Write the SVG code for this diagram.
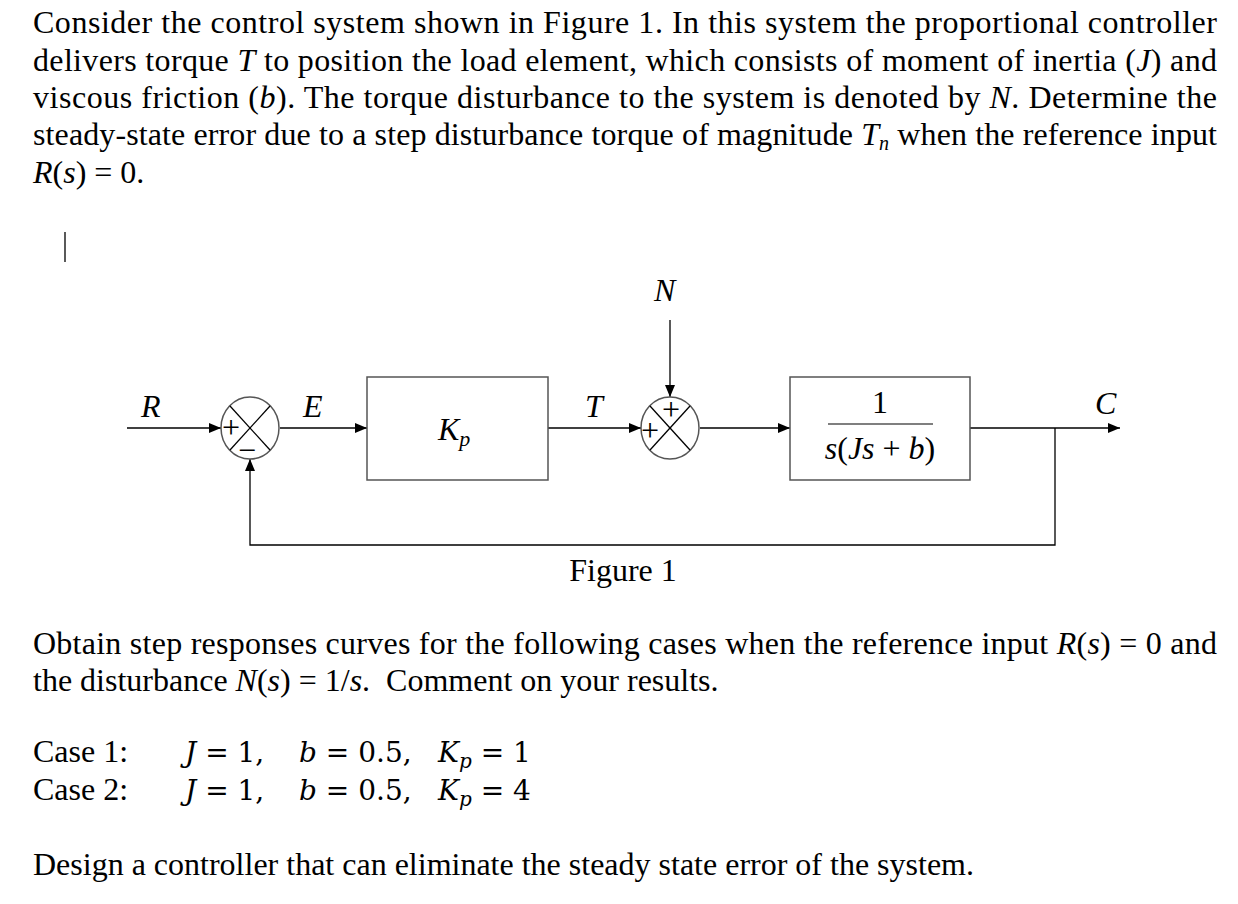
<svg xmlns="http://www.w3.org/2000/svg" width="1238" height="904" viewBox="0 0 1238 904">
<style>
text{font-family:"Liberation Serif","Times New Roman",serif;font-size:32px;fill:#000}
.i{font-style:italic}
.l{stroke:#000;stroke-width:1.3;fill:none}
.b{stroke:#555;stroke-width:1.5;fill:#fff}
.m{font-family:"DejaVu Serif",serif;font-size:28px}
</style>
<defs><marker id="a" markerWidth="12" markerHeight="10" refX="12" refY="5" orient="auto" markerUnits="userSpaceOnUse"><path d="M0,0L12,5L0,10Z" fill="#000"/></marker></defs>
<rect width="1238" height="904" fill="#fff"/>
<text x="33" y="33" textLength="1184" lengthAdjust="spacing">Consider the control system shown in Figure 1.  In this system the proportional controller</text>
<text x="33" y="71" textLength="1184" lengthAdjust="spacing">delivers torque <tspan class="i">T</tspan> to position the load element, which consists of moment of inertia (<tspan class="i">J</tspan>) and</text>
<text x="33" y="108" textLength="1184" lengthAdjust="spacing">viscous friction (<tspan class="i">b</tspan>).  The torque disturbance to the system is denoted by <tspan class="i">N</tspan>.  Determine the</text>
<text x="33" y="145" textLength="1184" lengthAdjust="spacing">steady-state error due to a step disturbance torque of magnitude <tspan class="i">T</tspan><tspan class="i" font-size="20" dy="5">n</tspan><tspan dy="-5"> when the reference input</tspan></text>
<text x="33" y="183"><tspan class="i">R</tspan>(<tspan class="i">s</tspan>) = 0.</text>
<line x1="65" y1="232" x2="65" y2="262" stroke="#000" stroke-width="1.3"/>
<g id="connectors">
<line class="l" x1="127" y1="428" x2="221" y2="428" marker-end="url(#a)"/>
<line class="l" x1="280" y1="428" x2="367" y2="428" marker-end="url(#a)"/>
<line class="l" x1="548" y1="428" x2="641" y2="428" marker-end="url(#a)"/>
<line class="l" x1="670" y1="320" x2="670" y2="397" marker-end="url(#a)"/>
<line class="l" x1="700" y1="428" x2="790" y2="428" marker-end="url(#a)"/>
<line class="l" x1="970" y1="428" x2="1120" y2="428" marker-end="url(#a)"/>
<polyline class="l" points="1055,428 1055,545 250,545 250,459" marker-end="url(#a)"/>
</g>
<g id="sum1">
<ellipse class="b" cx="250" cy="428" rx="29" ry="31"/>
<line class="l" x1="230" y1="406" x2="270" y2="450"/><line class="l" x1="270" y1="406" x2="230" y2="450"/>
<text x="222" y="438" font-size="26">+</text><text x="238" y="461" font-size="26">−</text>
</g>
<g id="sum2">
<ellipse class="b" cx="670" cy="428" rx="29" ry="31"/>
<line class="l" x1="650" y1="406" x2="690" y2="450"/><line class="l" x1="690" y1="406" x2="650" y2="450"/>
<text x="641" y="441" font-size="26">+</text><text x="662" y="420" font-size="26">+</text>
</g>
<g id="kp"><rect class="b" x="367" y="377" width="181" height="103"/>
<text class="i" x="438" y="440">K<tspan font-size="22" dy="6">p</tspan></text></g>
<g id="plant"><rect class="b" x="790" y="377" width="180" height="103"/>
<text x="880" y="413" text-anchor="middle">1</text>
<line x1="828" y1="424" x2="933" y2="424" stroke="#000" stroke-width="1.2"/>
<text x="880" y="459" text-anchor="middle"><tspan class="i">s</tspan>(<tspan class="i">Js</tspan> + <tspan class="i">b</tspan>)</text></g>
<text class="i" x="141" y="417">R</text>
<text class="i" x="303" y="417">E</text>
<text class="i" x="585" y="417">T</text>
<text class="i" x="654" y="301">N</text>
<text class="i" x="1095" y="414">C</text>
<text x="623" y="581" text-anchor="middle">Figure 1</text>
<text x="33" y="654" textLength="1184" lengthAdjust="spacing">Obtain step responses curves for the following cases when the reference input <tspan class="i">R</tspan>(<tspan class="i">s</tspan>) = 0 and</text>
<text x="33" y="691" xml:space="preserve">the disturbance <tspan class="i">N</tspan>(<tspan class="i">s</tspan>) = 1/<tspan class="i">s</tspan>.  Comment on your results.</text>
<text x="33" y="762">Case 1:</text>
<text x="33" y="800">Case 2:</text>
<text class="m" x="185" y="762"><tspan class="i">J</tspan> = 1,</text>
<text class="m" x="299" y="762"><tspan class="i">b</tspan> = 0.5,</text>
<text class="m" x="438" y="762"><tspan class="i">K</tspan><tspan class="i" font-size="20" dy="6">p</tspan><tspan dy="-6"> = 1</tspan></text>
<text class="m" x="185" y="800"><tspan class="i">J</tspan> = 1,</text>
<text class="m" x="299" y="800"><tspan class="i">b</tspan> = 0.5,</text>
<text class="m" x="438" y="800"><tspan class="i">K</tspan><tspan class="i" font-size="20" dy="6">p</tspan><tspan dy="-6"> = 4</tspan></text>
<text x="33" y="875">Design a controller that can eliminate the steady state error of the system.</text>
</svg>
